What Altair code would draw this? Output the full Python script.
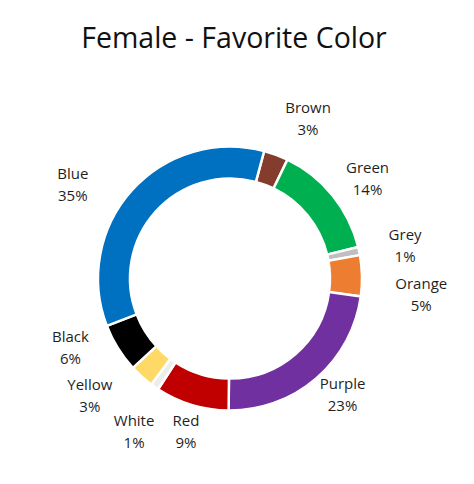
import altair as alt
import pandas as pd
import math

colors = ["Brown", "Green", "Grey", "Orange", "Purple", "Red", "White", "Yellow", "Black", "Blue"]
percents = [3, 14, 1, 5, 23, 9, 1, 3, 6, 35]
fills = ["#843C2C", "#00B050", "#BFBFBF", "#ED7D31", "#7030A0", "#C00000", "#EDEDED", "#FFD966", "#000000", "#0070C0"]

# label placement nudges (degrees away from slice middle, and label radius in px)
label_nudge_deg = [5.6, 3, 1.6, 6.2, -3.2, -0.8, -2.8, 8, 8.3, -11.2]
label_radius = [178, 170, 178, 192, 162, 160, 181, 183, 174, 183]

df = pd.DataFrame({
    "color": colors, "pct": percents, "order": list(range(len(colors))),
    "nudge": label_nudge_deg, "lr": label_radius,
})

start_deg = 15
start = math.radians(start_deg)
theta_scale = alt.Scale(range=[start, start + 2 * math.pi])

cx, cy = 222, 200.5

ring = alt.Chart(df).mark_arc(innerRadius=100, outerRadius=132, stroke="white", strokeWidth=2.5).encode(
    theta=alt.Theta("pct:Q", stack=True, scale=theta_scale),
    order=alt.Order("order:Q"),
    color=alt.Color("color:N", scale=alt.Scale(domain=colors, range=fills), legend=None),
    x=alt.value(cx),
    y=alt.value(cy),
)

labels = alt.Chart(df).transform_window(
    cum="sum(pct)", sort=[alt.SortField("order")], frame=[None, 0]
).transform_joinaggregate(
    total="sum(pct)"
).transform_calculate(
    ang=f"({start_deg} + (datum.cum - datum.pct / 2) / datum.total * 360 + datum.nudge) * PI / 180",
    label="datum.color + '\\n' + datum.pct + '%'",
).mark_text(
    fontSize=15, font="Open Sans", color="#1f1f1f", lineBreak="\n", lineHeight=22,
    baseline="middle", dy=-11,
).encode(
    theta=alt.Theta("ang:Q", scale=None),
    radius=alt.Radius("lr:Q", scale=None),
    text="label:N",
    x=alt.value(cx),
    y=alt.value(cy),
)

chart = alt.layer(ring, labels).properties(
    width=458,
    height=398,
    title=alt.Title("Female - Favorite Color", fontSize=28.5, font="Open Sans", fontWeight="normal",
                    color="#111111", anchor="middle", offset=25, dx=-3),
    autosize=alt.AutoSizeParams(type="none"),
    padding={"top": 70, "left": 0, "right": 0, "bottom": 0},
).configure_view(stroke=None)

chart.save("out.html", embed_options={"renderer": "svg", "actions": False})
